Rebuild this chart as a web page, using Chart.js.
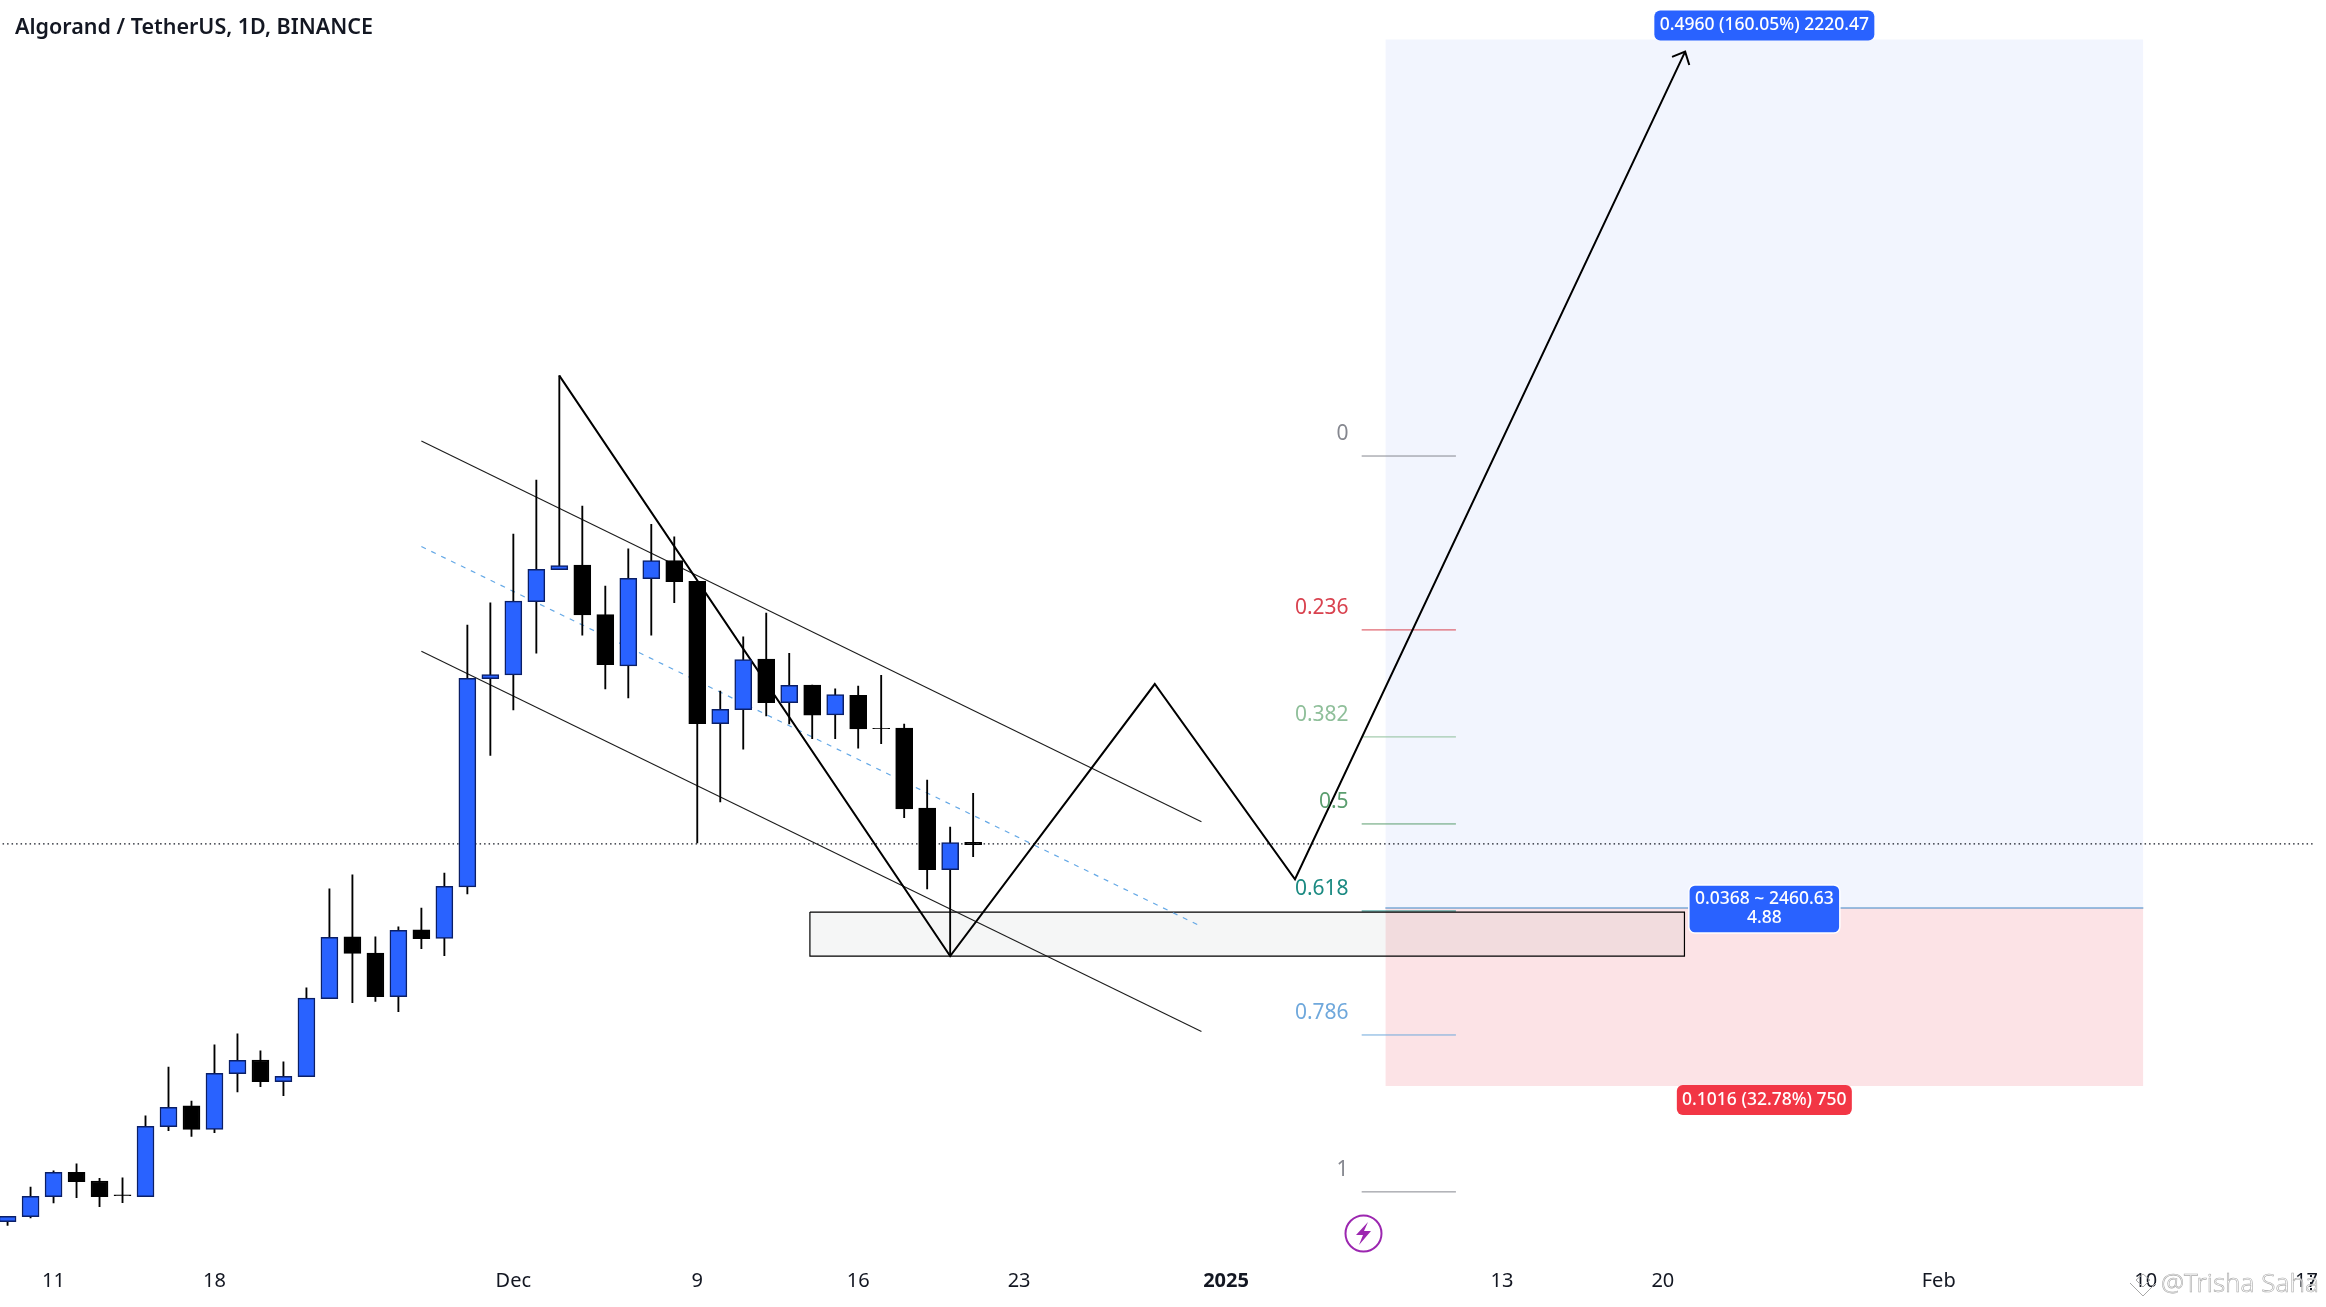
<!DOCTYPE html>
<html>
<head>
<meta charset="utf-8">
<title>Algorand / TetherUS</title>
<script src="https://cdn.jsdelivr.net/npm/chart.js@4/dist/chart.umd.js"></script>
<style>
    html, body { margin: 0; padding: 0; background: #ffffff; overflow: hidden; }
    canvas { display: block; }
</style>
</head>
<body>
<canvas id="algoChart" width="2326" height="1307"></canvas>
<script>
// ===== Candles, one per day starting Nov 9 =====
const opens = [.1308,.1337,.1451,.1590,.1540,.1461,.1451,.1851,.1969,.1834,.2153,.2231,.2108,.2136,.2582,.2934,.2841,.2593,.2974,.2926,.3220,.4408,.4430,.4849,.5031,.5057,.4775,.4482,.4979,.5083,.4965,.4152,.4232,.4520,.4272,.4372,.4202,.4314,.4125,.4126,.3669,.3318,.3474];
const closes = [.1339,.1453,.1590,.1537,.1451,.1457,.1853,.1961,.1834,.2155,.2229,.2108,.2138,.2584,.2932,.2839,.2593,.2972,.2924,.3223,.4410,.4432,.4851,.5033,.5055,.4773,.4488,.4981,.5083,.4963,.4152,.4234,.4518,.4272,.4370,.4200,.4318,.4122,.4123,.3665,.3318,.3473,.3460];
const highs = [.1339,.1506,.1598,.1638,.1556,.1558,.1912,.2191,.1997,.2317,.2380,.2283,.2220,.2643,.3208,.3288,.2934,.2991,.3099,.3299,.4715,.4841,.5234,.5542,.6139,.5394,.4937,.5150,.5290,.5218,.4965,.4338,.4647,.4783,.4554,.4372,.4350,.4366,.4428,.4150,.3829,.3561,.3754];
const lows = [.1286,.1329,.1415,.1445,.1394,.1417,.1451,.1828,.1794,.1816,.2049,.2079,.2028,.2136,.2582,.2559,.2565,.2507,.2867,.2827,.3180,.3971,.4230,.4554,.5031,.4657,.4350,.4298,.4657,.4843,.3471,.3705,.4006,.4196,.4150,.4066,.4066,.4012,.4038,.3615,.3208,.2831,.3392];

// ===== Time axis =====
const tickDays = [2, 9, 22, 30, 37, 44, 53, 65, 72, 84, 93, 100];
const tickLabels = ['11', '18', 'Dec', '9', '16', '23', '2025', '13', '20', 'Feb', '10', '17'];

// ===== Drawings =====
const lastPrice = .3465;
const upperChannel = [[18, .5766], [51.93, .3592]];
const middleChannel = [[18, .5163], [51.93, .2993]];
const lowerChannel = [[18, .4565], [51.93, .2394]];
const zigzag = [[24, .6139], [41, .2825], [49.9, .4378], [56, .3263], [72.97, .7989]];
const arrowHead = [[72.4, .7959], [72.97, .7989], [73.15, .7913]];
const supportZone = { from: 34.9, to: 72.94, top: .3076, bottom: .2824 };

// ===== Long position tool =====
const positionFrom = 59.93;
const positionTo = 92.9;
const targetPrice = .8059;
const entryPrice = .3099;
const stopPrice = .2083;

// ===== Fibonacci retracement =====
const fibLabels = ['0', '0.236', '0.382', '0.5', '0.618', '0.786', '1'];
const fibPrices = [.5680, .4687, .4076, .3579, .3082, .2374, .1478];
const fibColors = ['#85878f', '#d9424f', '#8fbf9a', '#5b9e6f', '#1b8a82', '#6fa8dc', '#85878f'];
const fibFrom = 58.9;
const fibTo = 63;

const FONT = '"Noto Sans", sans-serif';

function toPoints(pairs) {
    return pairs.map(p => ({ x: p[0], y: p[1] }));
}

function lineSet(pairs, color, width, dash, order) {
    return {
        type: 'line',
        data: toPoints(pairs),
        borderColor: color,
        borderWidth: width,
        borderDash: dash || [],
        pointRadius: 0,
        tension: 0,
        fill: false,
        order: order
    };
}

function zoneSet(from, to, top, bottom, color, order) {
    return {
        type: 'line',
        data: toPoints([[from, top], [to, top]]),
        borderWidth: 0,
        pointRadius: 0,
        backgroundColor: color,
        fill: { value: bottom },
        order: order
    };
}

// Rounded label with centered lines of text
function drawPill(ctx, cx, y, w, h, color, lines, outline) {
    ctx.beginPath();
    ctx.roundRect(cx - w / 2, y, w, h, 6);
    ctx.fillStyle = color;
    ctx.fill();
    if (outline) {
        ctx.strokeStyle = '#ffffff';
        ctx.lineWidth = 1.5;
        ctx.stroke();
    }
    ctx.fillStyle = '#ffffff';
    ctx.font = '500 17.5px ' + FONT;
    ctx.textAlign = 'center';
    ctx.textBaseline = 'middle';
    const step = 19;
    lines.forEach((text, i) => {
        ctx.fillText(text, cx, y + h / 2 + (i - (lines.length - 1) / 2) * step);
    });
}

const overlayPlugin = {
    id: 'overlay',
    afterDatasetsDraw(chart) {
        const ctx = chart.ctx;
        const xs = chart.scales.x;
        const ys = chart.scales.y;
        ctx.save();

        // title
        ctx.fillStyle = '#131722';
        ctx.font = '600 21.5px ' + FONT;
        ctx.textAlign = 'left';
        ctx.textBaseline = 'middle';
        ctx.fillText('Algorand / TetherUS, 1D, BINANCE', 15, 28);

        // fib labels
        ctx.font = '21px ' + FONT;
        ctx.textAlign = 'right';
        fibLabels.forEach((label, i) => {
            ctx.fillStyle = fibColors[i];
            ctx.fillText(label, xs.getPixelForValue(58.33), ys.getPixelForValue(fibPrices[i]) - 22);
        });

        // position labels
        const cx = xs.getPixelForValue((positionFrom + positionTo) / 2);
        drawPill(ctx, cx, ys.getPixelForValue(targetPrice) - 29, 220, 30, '#2962ff', ['0.4960 (160.05%) 2220.47']);
        drawPill(ctx, cx, ys.getPixelForValue(entryPrice) - 23, 151, 48, '#2962ff', ['0.0368 ~ 2460.63', '4.88'], true);
        drawPill(ctx, cx, ys.getPixelForValue(stopPrice) - 1, 175, 30, '#f23645', ['0.1016 (32.78%) 750']);

        // lightning badge
        ctx.strokeStyle = '#9c27b0';
        ctx.lineWidth = 2;
        ctx.beginPath();
        ctx.arc(1363.5, 1233.5, 18, 0, Math.PI * 2);
        ctx.stroke();
        ctx.fillStyle = '#9c27b0';
        ctx.beginPath();
        ctx.moveTo(1368, 1222);
        ctx.lineTo(1356, 1235);
        ctx.lineTo(1363, 1235);
        ctx.lineTo(1359, 1245);
        ctx.lineTo(1371, 1231);
        ctx.lineTo(1364, 1231);
        ctx.closePath();
        ctx.fill();

        // watermark
        ctx.font = '300 26px ' + FONT;
        ctx.textAlign = 'left';
        ctx.fillStyle = 'rgba(255, 255, 255, 0.75)';
        ctx.fillText('@Trisha Saha', 2161, 1285);
        ctx.strokeStyle = '#a8a8a8';
        ctx.lineWidth = 0.6;
        ctx.strokeText('@Trisha Saha', 2161, 1285);
        ctx.lineWidth = 1;
        ctx.beginPath();
        ctx.moveTo(2130, 1283);
        ctx.lineTo(2143, 1296);
        ctx.lineTo(2156, 1283);
        ctx.moveTo(2136, 1280);
        ctx.lineTo(2143, 1287);
        ctx.lineTo(2150, 1280);
        ctx.lineTo(2143, 1274);
        ctx.closePath();
        ctx.stroke();
        ctx.fillStyle = '#131722';
        [1275, 1282, 1288].forEach(dotY => ctx.fillRect(2310, dotY, 2, 2));

        ctx.restore();
    }
};

const candleDays = opens.map((_, i) => i);
const bodyColors = opens.map((o, i) => closes[i] >= o ? '#2962ff' : '#000000');
const edgeColors = opens.map((o, i) => closes[i] >= o ? '#0b1f66' : '#000000');

const fibSets = fibPrices.map((price, i) =>
    lineSet([[fibFrom, price], [fibTo, price]], fibColors[i], 1, [], 8));

new Chart(document.getElementById('algoChart').getContext('2d'), {
    data: {
        datasets: [
            // candles sit on top of every drawing
            {
                type: 'bar',
                data: candleDays.map(i => ({ x: i, y: [opens[i], closes[i]] })),
                backgroundColor: bodyColors,
                borderColor: edgeColors,
                borderWidth: 1.5,
                borderSkipped: false,
                barThickness: 17,
                grouped: false,
                order: 1
            },
            {
                type: 'bar',
                data: candleDays.map(i => ({ x: i, y: [lows[i], highs[i]] })),
                backgroundColor: '#000000',
                borderWidth: 0,
                barThickness: 1.2,
                grouped: false,
                order: 2
            },
            lineSet(zigzag, '#000000', 2, [], 3),
            lineSet(arrowHead, '#000000', 2, [], 3),
            lineSet(upperChannel, '#1c1c1c', 1.1, [], 4),
            lineSet(lowerChannel, '#1c1c1c', 1.1, [], 4),
            lineSet(middleChannel, '#64a8e6', 1.2, [5, 6], 4),
            lineSet([[supportZone.from, supportZone.top], [supportZone.to, supportZone.top],
                [supportZone.to, supportZone.bottom], [supportZone.from, supportZone.bottom],
                [supportZone.from, supportZone.top]], '#000000', 1.2, [], 5),
            zoneSet(supportZone.from, supportZone.to, supportZone.top, supportZone.bottom, 'rgba(120, 123, 134, 0.07)', 6),
            lineSet([[-1, lastPrice], [102, lastPrice]], '#131722', 1.2, [1.5, 3], 7),
            ...fibSets,
            lineSet([[positionFrom, entryPrice], [positionTo, entryPrice]], '#3d85c6', 1.2, [], 9),
            zoneSet(positionFrom, positionTo, targetPrice, entryPrice, '#f2f5fe', 10),
            zoneSet(positionFrom, positionTo, entryPrice, stopPrice, '#fce3e6', 10)
        ]
    },
    options: {
        responsive: false,
        animation: false,
        events: [],
        layout: { padding: 0 },
        plugins: {
            legend: { display: false },
            tooltip: { enabled: false }
        },
        scales: {
            x: {
                type: 'linear',
                offset: false,
                min: -0.329,
                max: 100.36,
                grid: { display: false },
                border: { display: false },
                afterFit: scale => { scale.height = 54; },
                afterBuildTicks: scale => {
                    scale.ticks = tickDays.map(d => ({ value: d }));
                },
                ticks: {
                    autoSkip: false,
                    maxRotation: 0,
                    padding: 8,
                    color: '#131722',
                    font: c => ({
                        family: FONT,
                        size: 20,
                        weight: c.tick && c.tick.value === 53 ? '700' : '400'
                    }),
                    callback: value => tickLabels[tickDays.indexOf(value)]
                }
            },
            y: {
                type: 'linear',
                display: false,
                min: .1129,
                max: .8284
            }
        }
    },
    plugins: [overlayPlugin]
});
</script>
</body>
</html>
